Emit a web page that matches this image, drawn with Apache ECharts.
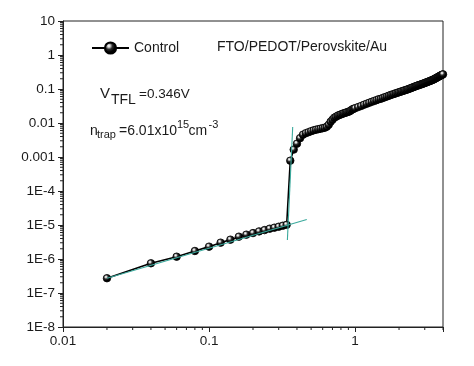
<!DOCTYPE html>
<html>
<head>
<meta charset="utf-8">
<script src="https://cdn.jsdelivr.net/npm/echarts@6/dist/echarts.min.js"></script>
<style>
html,body{margin:0;padding:0;background:#fff;}
#chart{width:474px;height:366px;}
</style>
</head>
<body>
<div id="chart"></div>
<script>
// ---- data ----
const voltage = [
  0.02,0.04,0.06,0.08,0.10,0.12,0.14,0.16,0.18,0.20,
  0.22,0.24,0.26,0.28,0.30,0.32,0.34,0.36,0.38,0.40,
  0.42,0.44,0.46,0.48,0.50,0.52,0.54,0.56,0.58,0.60,
  0.62,0.64,0.66,0.68,0.70,0.72,0.74,0.76,0.78,0.80,
  0.82,0.84,0.86,0.88,0.90,0.92,0.94,0.96,0.98,1.00,
  1.05,1.10,1.15,1.20,1.25,1.30,1.35,1.40,1.45,1.50,
  1.55,1.60,1.65,1.70,1.75,1.80,1.85,1.90,1.95,2.00,
  2.05,2.10,2.15,2.20,2.25,2.30,2.35,2.40,2.45,2.50,
  2.55,2.60,2.65,2.70,2.75,2.80,2.85,2.90,2.95,3.00,
  3.05,3.10,3.15,3.20,3.25,3.30,3.35,3.40,3.45,3.50,
  3.55,3.60,3.65,3.70,3.75,3.80,3.85,3.90,3.95,4.00
];
const current = [
  2.72e-7,7.48e-7,1.17e-6,1.72e-6,2.31e-6,3.03e-6,3.71e-6,4.54e-6,5.20e-6,5.79e-6,
  6.49e-6,7.08e-6,7.78e-6,8.34e-6,8.91e-6,9.53e-6,1.01e-5,7.8e-4,1.65e-3,2.47e-3,
  3.58e-3,4.54e-3,5.02e-3,5.37e-3,5.75e-3,6.07e-3,6.37e-3,6.58e-3,6.81e-3,7.05e-3,
  7.28e-3,7.78e-3,8.91e-3,1.09e-2,1.25e-2,1.43e-2,1.53e-2,1.64e-2,1.72e-2,1.79e-2,
  1.87e-2,1.94e-2,2.00e-2,2.07e-2,2.14e-2,2.22e-2,2.37e-2,2.54e-2,2.62e-2,2.72e-2,
  2.94e-2,3.17e-2,3.44e-2,3.68e-2,3.94e-2,4.19e-2,4.45e-2,4.70e-2,4.99e-2,5.16e-2,
  5.45e-2,5.75e-2,6.03e-2,6.32e-2,6.62e-2,6.90e-2,7.18e-2,7.48e-2,7.74e-2,8.05e-2,
  8.34e-2,8.63e-2,8.91e-2,9.23e-2,9.48e-2,9.80e-2,0.102,0.105,0.109,0.113,
  0.117,0.120,0.124,0.128,0.131,0.135,0.138,0.142,0.146,0.150,
  0.154,0.158,0.163,0.167,0.172,0.176,0.181,0.186,0.191,0.198,
  0.205,0.212,0.219,0.226,0.234,0.242,0.249,0.256,0.263,0.270
];
// tangent (fit) lines
const fitLowX = [0.02, 0.467];
const fitLowY = [2.72e-7, 1.46e-5];
const fitHighX = [0.344, 0.374];
const fitHighY = [3.6e-6, 7.6e-3];

// axes / tick labels
const xTickValues = [0.01, 0.1, 1];
const xTickLabels = ['0.01', '0.1', '1'];
const yTickValues = [1e-8,1e-7,1e-6,1e-5,1e-4,1e-3,0.01,0.1,1,10];
const yTickLabels = ['1E-8','1E-7','1E-6','1E-5','1E-4','0.001','0.01','0.1','1','10'];
const xMinorTicks = [0.02,0.03,0.04,0.05,0.06,0.07,0.08,0.09,0.2,0.3,0.4,0.5,0.6,0.7,0.8,0.9,2,3,4];
const yMinorTicks = [];
for (let e = -8; e < 1; e++) for (let m = 2; m <= 9; m++) yMinorTicks.push(m * Math.pow(10, e));

const seriesName = 'Control';
const stackLabel = 'FTO/PEDOT/Perovskite/Au';

// ---- chart ----
const FONT = '"Liberation Sans", Arial, sans-serif';
const TXT = '#1a1a1a';
const TEAL = '#3aa99c';

function labelFor(values, labels, v) {
  for (let i = 0; i < values.length; i++) {
    if (Math.abs(Math.log10(values[i]) - Math.log10(v)) < 1e-6) return labels[i];
  }
  return '';
}

const sphere = {
  type: 'radial', x: 0.38, y: 0.34, r: 0.66,
  colorStops: [
    {offset: 0, color: '#ffffff'},
    {offset: 0.14, color: '#d8d8d8'},
    {offset: 0.4, color: '#2e2e2e'},
    {offset: 0.7, color: '#000000'},
    {offset: 1, color: '#000000'}
  ]
};

const chart = echarts.init(document.getElementById('chart'), null, {renderer: 'canvas'});

const option = {
  animation: false,
  backgroundColor: '#fff',
  grid: {left: 63, right: 31, top: 21, bottom: 39, show: true, borderColor: '#222', borderWidth: 1},
  legend: {
    data: [seriesName],
    left: 91, top: 41, padding: 0,
    itemWidth: 37, itemHeight: 14, itemGap: 10,
    textStyle: {fontSize: 14, color: TXT, fontFamily: FONT}
  },
  xAxis: {
    type: 'log', logBase: 10, min: 0.01, max: 4,
    axisLine: {show: true, lineStyle: {color: '#222', width: 1}},
    axisTick: {show: true, inside: false, length: 5, lineStyle: {color: '#222'}},
    splitLine: {show: false},
    axisLabel: {
      margin: 7, fontSize: 13.5, color: TXT, fontFamily: FONT,
      formatter: v => labelFor(xTickValues, xTickLabels, v)
    }
  },
  yAxis: {
    type: 'log', logBase: 10, min: 1e-8, max: 10, splitNumber: 9,
    axisLine: {show: true, lineStyle: {color: '#222', width: 1}},
    axisTick: {show: true, inside: false, length: 5, lineStyle: {color: '#222'}},
    splitLine: {show: false},
    axisLabel: {
      margin: 8, fontSize: 13.5, color: TXT, fontFamily: FONT,
      formatter: v => labelFor(yTickValues, yTickLabels, v)
    }
  },
  series: [
    {
      name: seriesName,
      type: 'line',
      data: voltage.map((v, i) => [v, current[i]]),
      symbol: 'circle', symbolSize: 7.5,
      lineStyle: {color: '#000', width: 1.6},
      itemStyle: {color: sphere, borderColor: '#000', borderWidth: 0.8},
      z: 3
    },
    {
      name: 'fitLow', type: 'line', symbol: 'none',
      data: fitLowX.map((v, i) => [v, fitLowY[i]]),
      lineStyle: {color: TEAL, width: 1.1}, z: 4
    },
    {
      name: 'fitHigh', type: 'line', symbol: 'none',
      data: fitHighX.map((v, i) => [v, fitHighY[i]]),
      lineStyle: {color: TEAL, width: 1.1}, z: 4
    },
    {
      name: 'xMinor', type: 'custom', silent: true, clip: false,
      data: xMinorTicks.map(v => [v, 1e-8]),
      renderItem: (params, api) => {
        const p = api.coord([api.value(0), api.value(1)]);
        return {type: 'line', shape: {x1: p[0], y1: p[1], x2: p[0], y2: p[1] + 3},
                style: {stroke: '#222', lineWidth: 1}};
      }
    },
    {
      name: 'yMinor', type: 'custom', silent: true, clip: false,
      data: yMinorTicks.map(v => [0.01, v]),
      renderItem: (params, api) => {
        const p = api.coord([api.value(0), api.value(1)]);
        return {type: 'line', shape: {x1: p[0], y1: p[1], x2: p[0] - 3, y2: p[1]},
                style: {stroke: '#222', lineWidth: 1}};
      }
    }
  ],
  graphic: [
    {type: 'text', left: 217, top: 40, style: {text: stackLabel, font: '14px ' + FONT, fill: TXT}},
    {type: 'text', x: 100, y: 94, style: {text: 'V', font: '15px ' + FONT, fill: TXT, verticalAlign: 'middle'}},
    {type: 'text', x: 111, y: 100, style: {text: 'TFL', font: '14px ' + FONT, fill: TXT, verticalAlign: 'middle'}},
    {type: 'text', x: 139, y: 94, style: {text: '=0.346V', font: '13.5px ' + FONT, fill: TXT, verticalAlign: 'middle'}},
    {type: 'text', x: 90, y: 131.5, style: {text: 'n', font: '14px ' + FONT, fill: TXT, verticalAlign: 'middle'}},
    {type: 'text', x: 97, y: 134.5, style: {text: 'trap', font: '11px ' + FONT, fill: TXT, verticalAlign: 'middle'}},
    {type: 'text', x: 119, y: 131.5, style: {text: '=6.01x10', font: '14px ' + FONT, fill: TXT, verticalAlign: 'middle'}},
    {type: 'text', x: 177, y: 124.5, style: {text: '15', font: '11px ' + FONT, fill: TXT, verticalAlign: 'middle'}},
    {type: 'text', x: 188.5, y: 131.5, style: {text: 'cm', font: '14px ' + FONT, fill: TXT, verticalAlign: 'middle'}},
    {type: 'text', x: 208.5, y: 124.5, style: {text: '-3', font: '11px ' + FONT, fill: TXT, verticalAlign: 'middle'}}
  ]
};
chart.setOption(option);
</script>
</body>
</html>
